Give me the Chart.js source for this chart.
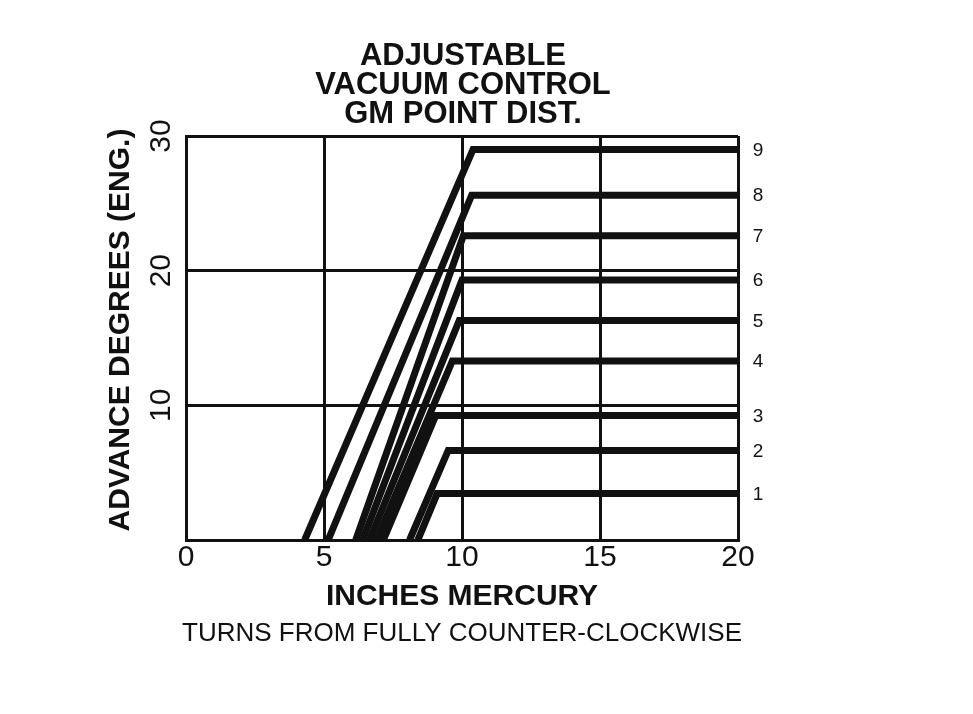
<!DOCTYPE html>
<html>
<head>
    <meta http-equiv="Content-Type" content="text/html; charset=UTF-8">
    <title>Adjustable Vacuum Control</title>
    <script src="https://cdnjs.cloudflare.com/ajax/libs/Chart.js/4.4.1/chart.umd.min.js"></script>
    <style>
        body { margin: 0; background: #ffffff; }
        #wrap { width: 973px; height: 714px; }
    </style>
</head>
<body>
<div id="wrap">
    <canvas id="myChart" width="973" height="714"></canvas>
</div>
<script>
    // curve numbers shown at the right edge
    var curveNames = ['1', '2', '3', '4', '5', '6', '7', '8', '9'];
    // inches mercury where each curve leaves zero
    var startInches = [8.4, 8.1, 7.15, 6.9, 6.65, 6.4, 6.15, 5.15, 4.3];
    // inches mercury where each curve levels off
    var kneeInches = [9.1, 9.5, 9.05, 9.65, 9.9, 10.0, 10.05, 10.35, 10.4];
    // max advance for each curve (degrees)
    var maxAdvance = [3.45, 6.65, 9.25, 13.3, 16.3, 19.3, 22.6, 25.6, 29.0];
    var endInches = 20;

    var xTicks = [0, 5, 10, 15, 20];
    var yTicks = [10, 20, 30];

    var titleLines = ['ADJUSTABLE', 'VACUUM CONTROL', 'GM POINT DIST.'];
    var yTitle = 'ADVANCE DEGREES (ENG.)';
    var xTitle = 'INCHES MERCURY';
    var xSubTitle = 'TURNS FROM FULLY COUNTER-CLOCKWISE';

    var ink = '#111111';
    var fam = '"Liberation Sans", Arial, Helvetica, sans-serif';

    var datasets = curveNames.map(function (name, i) {
        return {
            label: name,
            data: [
                {x: startInches[i], y: 0},
                {x: kneeInches[i], y: maxAdvance[i]},
                {x: endInches, y: maxAdvance[i]}
            ],
            borderColor: ink,
            borderWidth: 7,
            pointRadius: 0,
            tension: 0,
            fill: false
        };
    });

    // extra text: title, rotated y labels, y title, x subtitle, curve numbers
    var textPlugin = {
        id: 'textPlugin',
        afterDraw: function (chart) {
            var ctx = chart.ctx;
            var ys = chart.scales.y;
            var area = chart.chartArea;
            ctx.save();
            ctx.fillStyle = ink;
            ctx.textAlign = 'center';
            ctx.textBaseline = 'middle';

            ctx.font = 'bold 31px ' + fam;
            titleLines.forEach(function (t, i) {
                ctx.fillText(t, 463, 56 + i * 29);
            });

            // y tick labels, turned like the axis title
            ctx.font = '30px ' + fam;
            yTicks.forEach(function (v) {
                ctx.save();
                ctx.translate(162, ys.getPixelForValue(v));
                ctx.rotate(-Math.PI / 2);
                ctx.fillText(String(v), 0, 0);
                ctx.restore();
            });

            ctx.font = 'bold 30px ' + fam;
            ctx.save();
            ctx.translate(121, 330);
            ctx.rotate(-Math.PI / 2);
            ctx.fillText(yTitle, 0, 0);
            ctx.restore();

            ctx.font = 'bold 30px ' + fam;
            ctx.fillText(xTitle, (area.left + area.right) / 2, 597);
            ctx.font = '26px ' + fam;
            ctx.fillText(xSubTitle, (area.left + area.right) / 2, 634);

            ctx.font = '19px ' + fam;
            curveNames.forEach(function (name, i) {
                ctx.fillText(name, area.right + 20, ys.getPixelForValue(maxAdvance[i]) + 1);
            });
            ctx.restore();
        }
    };

    var ctx = document.getElementById('myChart').getContext('2d');
    var chart = new Chart(ctx, {
        type: 'line',
        data: {datasets: datasets},
        plugins: [textPlugin],
        options: {
            responsive: false,
            animation: false,
            devicePixelRatio: 1,
            layout: {padding: {top: 136, left: 0, right: 235, bottom: 0}},
            plugins: {
                legend: {display: false},
                title: {display: false},
                tooltip: {enabled: false}
            },
            scales: {
                x: {
                    type: 'linear',
                    min: 0,
                    max: 20,
                    afterFit: function (scale) { scale.height = 174; },
                    afterBuildTicks: function (scale) {
                        scale.ticks = xTicks.map(function (v) { return {value: v}; });
                    },
                    grid: {color: ink, lineWidth: 3, drawTicks: false},
                    border: {color: ink, width: 3},
                    ticks: {
                        color: ink,
                        padding: 3,
                        font: {family: fam, size: 30, lineHeight: 1}
                    }
                },
                y: {
                    min: 0,
                    max: 30,
                    afterFit: function (scale) { scale.width = 186; },
                    afterBuildTicks: function (scale) {
                        scale.ticks = [0].concat(yTicks).map(function (v) { return {value: v}; });
                    },
                    grid: {color: ink, lineWidth: 3, drawTicks: false},
                    border: {color: ink, width: 3},
                    ticks: {display: false}
                }
            }
        }
    });
</script>
</body>
</html>
